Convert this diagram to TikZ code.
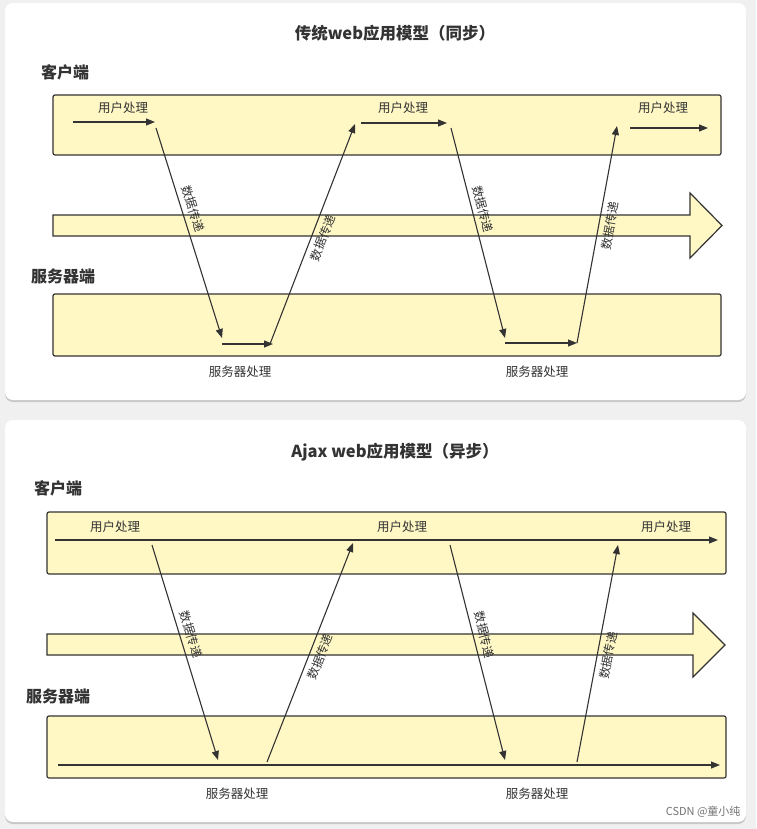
\documentclass[tikz,border=0pt]{standalone}
\usepackage{fontspec}
\setmainfont{Noto Sans CJK SC}
\usetikzlibrary{arrows.meta,shadows}
\definecolor{fillY}{HTML}{FFF8C5}
\definecolor{edge}{HTML}{333333}
\tikzset{
 card/.style={fill=white,rounded corners=8pt,draw=none,drop shadow={shadow xshift=0pt,shadow yshift=-2pt,opacity=0.35}},
 lane/.style={fill=fillY,draw=edge,line width=1.2pt,rounded corners=2pt},
 flow/.style={-{Triangle[length=9pt,width=7pt]},line width=1.1pt,draw=edge},
 lbl/.style={font=\fontsize{12.5}{14}\selectfont,text=edge},
 side/.style={font=\bfseries\fontsize{16}{18}\selectfont,text=edge},
 ttl/.style={font=\bfseries\fontsize{16.5}{18}\selectfont,text=edge},
 rot/.style={font=\fontsize{12}{13}\selectfont,text=edge,sloped,inner sep=5pt}
}
\begin{document}
\begin{tikzpicture}[x=1pt,y=-1pt]
\path[fill=black!6] (0,0) rectangle (756,829);
\useasboundingbox (0,0) rectangle (756,829);
% ---------- top panel
\path[card] (5,3) rectangle (746,400);
\node[ttl] (t1) at (395,33) {传统web应用模型（同步）};
\node[side] (c1) at (65,72) {客户端};
\node[side] (s1) at (63,276) {服务器端};
\draw[lane] (53,95) rectangle (721,155);
\draw[lane] (53,294) rectangle (721,356);
\draw[fill=fillY,draw=edge,line width=1.2pt] (53,215) -- (690,215) -- (690,193) -- (722,225.5) -- (690,258) -- (690,236) -- (53,236) -- cycle;
\node[lbl] (u1) at (123,108) {用户处理};
\node[lbl] (u2) at (403,108) {用户处理};
\node[lbl] (u3) at (663,108) {用户处理};
\node[lbl] (v1) at (240,372) {服务器处理};
\node[lbl] (v2) at (537,372) {服务器处理};
\coordinate (a0) at (73,122); \coordinate (a1) at (155,122);
\coordinate (b0) at (156,128); \coordinate (b1) at (222,338);
\coordinate (c0) at (222,344); \coordinate (c1p) at (273,344);
\coordinate (d0) at (270,344); \coordinate (d1) at (355,124);
\coordinate (e0) at (361,123); \coordinate (e1) at (447,123);
\coordinate (f0) at (451,128); \coordinate (f1) at (505,338);
\coordinate (g0) at (505,343); \coordinate (g1) at (577,343);
\coordinate (h0) at (577,343); \coordinate (h1) at (617,126);
\coordinate (i0) at (630,128); \coordinate (i1) at (708,128);
\draw[flow] (a0) -- (a1);
\draw[flow] (b0) -- node[rot,above,pos=0.4]{数据传递} (b1);
\draw[flow] (c0) -- (c1p);
\draw[flow] (d0) -- node[rot,below,pos=0.5]{数据传递} (d1);
\draw[flow] (e0) -- (e1);
\draw[flow] (f0) -- node[rot,above,pos=0.4]{数据传递} (f1);
\draw[flow] (g0) -- (g1);
\draw[flow] (h0) -- node[rot,below,pos=0.55]{数据传递} (h1);
\draw[flow] (i0) -- (i1);
% ---------- bottom panel
\path[card] (5,420) rectangle (746,822);
\node[ttl] (t2) at (395,452) {Ajax web应用模型（异步）};
\node[side] (c2) at (58,488) {客户端};
\node[side] (s2) at (58,696) {服务器端};
\draw[lane] (47,512) rectangle (726,574);
\draw[lane] (47,716) rectangle (726,778);
\draw[fill=fillY,draw=edge,line width=1.2pt] (47,634) -- (693,634) -- (693,613) -- (725,645) -- (693,677) -- (693,655) -- (47,655) -- cycle;
\node[lbl] (w1) at (115,527) {用户处理};
\node[lbl] (w2) at (402,527) {用户处理};
\node[lbl] (w3) at (666,527) {用户处理};
\node[lbl] (x1) at (237,794) {服务器处理};
\node[lbl] (x2) at (537,794) {服务器处理};
\coordinate (p0) at (55,540); \coordinate (p1) at (718,540);
\coordinate (q0) at (58,765); \coordinate (q1) at (720,765);
\draw[flow] (p0) -- (p1);
\draw[flow] (q0) -- (q1);
\coordinate (k0) at (152,545); \coordinate (k1) at (218,760);
\coordinate (l0) at (267,762); \coordinate (l1) at (353,543);
\coordinate (m0) at (450,545); \coordinate (m1) at (505,760);
\coordinate (n0) at (577,762); \coordinate (n1) at (618,545);
\draw[flow] (k0) -- node[rot,above,pos=0.43]{数据传递} (k1);
\draw[flow] (l0) -- node[rot,below,pos=0.5]{数据传递} (l1);
\draw[flow] (m0) -- node[rot,above,pos=0.43]{数据传递} (m1);
\draw[flow] (n0) -- node[rot,below,pos=0.5]{数据传递} (n1);
\node[font=\fontsize{11}{12}\selectfont,text=black!55,anchor=east] (wm) at (744,812) {CSDN @童小纯};
\end{tikzpicture}
\end{document}
